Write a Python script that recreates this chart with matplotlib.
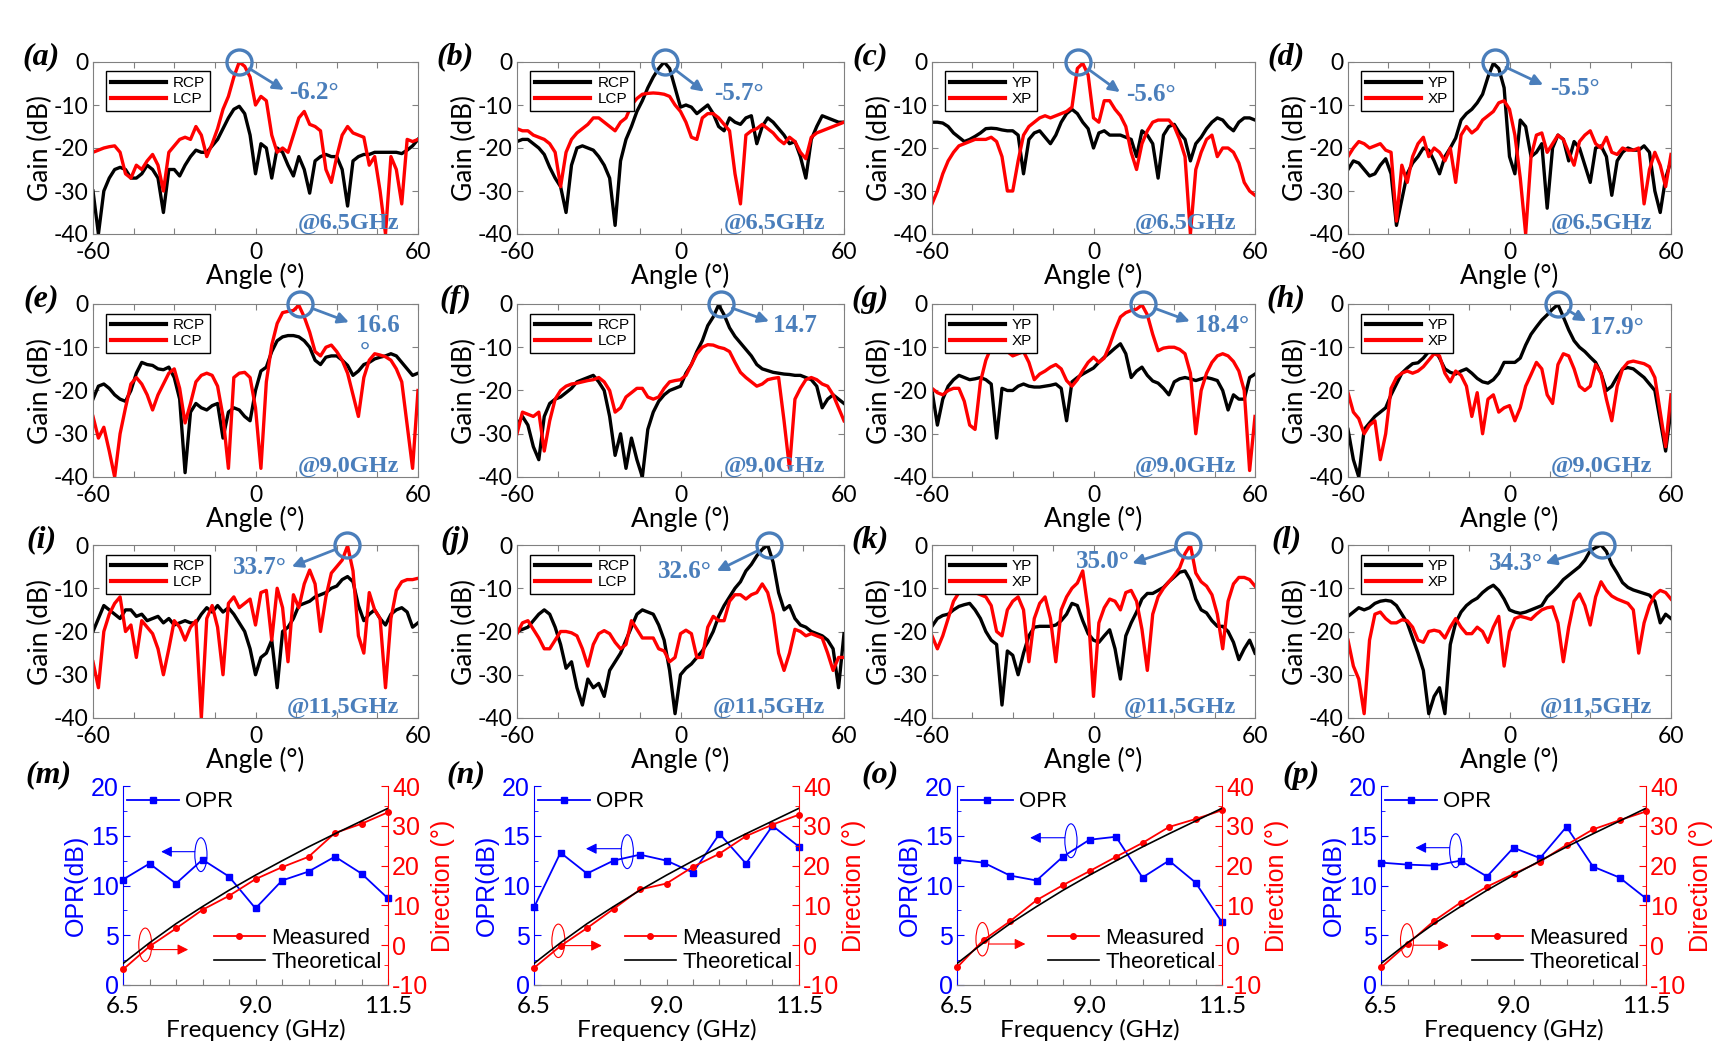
import numpy as np
import matplotlib
matplotlib.use('Agg')
import matplotlib.pyplot as plt
from matplotlib.patches import Ellipse

plt.rcParams['font.family'] = 'Lato'
plt.rcParams['axes.unicode_minus'] = False

# ---------------- data: normalized gain patterns (dB), angle grid -60..60 step 2 ----------------
ANGLE = np.arange(-60, 61, 2)

A_RCP = [-30, -40, -30, -27, -25, -24.5, -25, -27, -27, -26,
         -24, -25, -27, -35, -25, -25, -26.5, -24, -22, -20.5,
         -21, -21, -19.5, -18, -15.5, -13, -11, -10.3, -12, -17,
         -26, -19, -20, -27, -20, -21, -24, -26.5, -22, -25,
         -30.5, -23, -22, -21.5, -22, -22, -25, -33.5, -23, -22,
         -21.5, -21.5, -21, -21, -21, -21, -21, -21.3, -20.5, -19.5,
         -18]
A_LCP = [-21, -20.5, -20, -19.7, -19.5, -21, -26, -27, -24, -25,
         -23, -21.5, -24, -30, -21, -19.5, -18, -17.5, -18, -15,
         -17, -22, -19, -15.5, -11, -8, -3.5, 0, -1, -3.5,
         -10, -8, -9, -17, -21, -20, -21, -17, -13, -11.5,
         -14.5, -15, -16, -25, -28, -22, -17, -15, -16.5, -17,
         -17.5, -24, -22, -30, -40, -22, -25, -33, -18, -18.5,
         -18]
B_RCP = [-18.5, -18, -18, -19, -20, -21.5, -24.5, -27, -29, -35,
         -24, -20, -19.5, -20, -20.5, -22, -24, -27, -38, -23,
         -18, -15, -11.5, -9, -6, -3.5, -1.5, 0, -1.5, -6,
         -10.5, -10, -10.5, -12, -11, -10, -12, -15, -16, -13,
         -14, -14.5, -13, -12.5, -19, -15, -13, -14, -15.5, -17,
         -19, -18.5, -22, -27, -18, -15, -12.5, -13, -13.5, -14,
         -14]
B_LCP = [-15.5, -16, -16, -17, -17.5, -18, -19, -21, -29, -21,
         -18, -16.5, -15.5, -14.5, -13, -13, -14, -15, -16, -14,
         -13, -10, -8.5, -7.5, -7.3, -7.2, -7.3, -7.5, -8, -10,
         -11.5, -14, -17.5, -18, -13, -12, -12, -13, -14.5, -16,
         -26, -33, -17, -16, -15.5, -14.5, -15.5, -16.5, -18, -19,
         -17.5, -18.5, -21, -22.5, -17.5, -16.5, -16, -15.5, -15, -14.5,
         -14]
C_YP = [-14, -14, -14.2, -15, -16.5, -17.5, -18.5, -18, -17.3, -16.5,
        -15.5, -15.4, -15.5, -15.8, -16, -16, -17, -26, -18, -16.5,
        -16, -17.5, -19, -17, -14, -12, -11, -12, -14, -15.5,
        -20, -16.5, -16, -17, -17, -17, -17.5, -18, -22, -16,
        -17, -19, -27, -17, -15, -14.5, -16.5, -18, -23, -19,
        -17.5, -15.5, -14, -13, -13.5, -15, -16, -14, -13, -13,
        -13.5]
C_XP = [-33, -30, -26, -23, -21, -19.5, -19, -18.5, -18, -18,
        -18, -17.5, -18.5, -22, -30, -30, -23, -17, -15, -14,
        -13, -12.5, -13, -12.5, -12, -11.5, -10.5, -1.5, -0.3, -3,
        -13, -14, -9, -9, -11, -12.5, -15, -21, -25, -19,
        -16, -14, -13.5, -13.5, -13.5, -15, -18, -22, -40, -25,
        -21, -18, -17, -22, -20, -20, -21, -23.5, -28, -30,
        -31]
D_YP = [-25, -23, -23.5, -25, -26.5, -26, -24, -22.5, -26, -38,
        -32, -26, -23.5, -22, -20, -20.5, -23, -26, -22, -20,
        -17.7, -13.5, -12, -11, -9.5, -7.5, -3.5, -0.3, -1.5, -6,
        -22, -26, -13.5, -15, -22, -21, -19, -34, -20, -17,
        -18, -23, -18.5, -20, -24, -28, -20, -19.5, -22, -31,
        -23, -21, -20, -20.5, -20.5, -19.5, -21, -30, -35, -27,
        -23]
D_XP = [-22, -20, -18.5, -19, -20, -19.5, -19, -20.5, -21, -37,
        -24, -28, -22, -19, -17.5, -22, -20, -21, -23, -20,
        -28, -17, -15, -16.5, -15.5, -13.5, -12.5, -11.5, -9.5, -9,
        -11, -17, -27, -40, -22, -17, -16.5, -21, -19, -17,
        -18, -21, -24, -18.5, -17, -16, -19, -20, -17.5, -21,
        -21.5, -20, -20.5, -20.5, -20, -33, -25, -21, -24, -29,
        -21.5]
E_RCP = [-22, -19, -18.5, -19.5, -21, -22, -22.5, -20, -16, -13.5,
         -14, -14.2, -15, -15.2, -14.6, -17, -22, -39, -25, -23,
         -24, -24.5, -23.5, -23, -31, -25, -24, -24.5, -26, -27,
         -20, -15.5, -14.6, -11, -8.5, -7.6, -7.3, -7.3, -7.6, -8.5,
         -10, -13, -14, -12.3, -12, -12, -13, -14.2, -16.5, -15.5,
         -14, -13.5, -12.7, -12.3, -12, -11.5, -12, -13.5, -15, -16.5,
         -16]
E_LCP = [-26, -31, -28.5, -34, -40, -30, -24, -18.5, -17, -18.5,
         -21, -24.5, -21, -18.5, -16, -15, -19.5, -27.5, -23, -18,
         -16.5, -16, -16.5, -19, -26, -38, -17, -16, -15.8, -17,
         -24, -38, -18, -9.5, -4.5, -2, -1.7, -1.5, -0.3, -3,
         -6.5, -11, -12, -10, -9.5, -11, -13, -16, -21, -26,
         -17, -13, -11.5, -11.8, -12.2, -13, -15, -18, -28, -38,
         -20]
F_RCP = [-28, -26, -28, -33, -36, -26, -23, -22, -21.5, -20.5,
         -19.5, -18, -17.5, -17, -16.5, -18, -20, -26, -35, -30,
         -38, -31, -36, -40, -29, -25, -22.5, -21, -20, -19.5,
         -19, -16, -14, -11, -8.5, -5, -3, -0.2, -2.5, -5.5,
         -7.5, -9, -10.5, -12, -14, -15, -15.4, -15.8, -16, -16.2,
         -16.3, -16.5, -16.5, -17, -17.5, -19, -24, -22, -21, -22,
         -23]
F_LCP = [-30, -25, -25.5, -26, -25, -34, -27, -22, -20, -19,
         -18.5, -18.3, -18, -17.7, -17.5, -17, -18, -20, -25, -24,
         -21.5, -20.5, -19.5, -19.5, -21.5, -22, -21.5, -19.5, -18, -17.7,
         -17.5, -16.5, -14, -11.5, -10, -9.4, -9.5, -10, -10.3, -11,
         -13.5, -15.8, -17, -18, -19, -18.5, -17.5, -17.2, -17, -27,
         -38, -22, -19.5, -17.5, -17, -17.5, -18.5, -19, -21, -24,
         -27]
G_YP = [-20, -28, -22, -19, -17.5, -16.5, -17, -17.5, -17.3, -17,
        -17.5, -18.5, -31, -19.5, -20, -20, -19, -18.5, -19, -19.2,
        -19.2, -19, -18.8, -18.5, -19.5, -27, -18, -17, -16.2, -15.5,
        -14.8, -13.5, -12.3, -11.3, -10.2, -9.2, -11.5, -17, -15.5, -14.6,
        -16.5, -17.8, -18.3, -19.5, -21, -18, -17.3, -17, -17.3, -17.7,
        -17.3, -17, -17.3, -17.7, -20, -24.5, -21, -22, -22, -17,
        -16.2]
G_XP = [-19.5, -20.5, -21, -20, -19.5, -19.5, -22.5, -28, -29, -18,
        -13, -10, -9, -9.5, -11, -12, -11.5, -11, -13.5, -17.5,
        -16.2, -15.5, -14.6, -14, -15, -17.7, -19, -17.5, -15.4, -13.5,
        -12.3, -13.5, -12.5, -9.5, -6, -3, -2, -1.5, -1.2, -0.2,
        -2.5, -7, -10.8, -10.2, -10, -10, -10.5, -11.5, -16, -30,
        -20, -16, -13.5, -12, -11.5, -12, -13.3, -15.5, -20, -38.5,
        -26]
H_YP = [-29, -36, -40, -29, -27.5, -26, -25, -24, -21, -18.5,
        -16, -14.8, -13.8, -13.6, -12.5, -11, -10.3, -12.5, -15, -15.8,
        -16.2, -15.5, -15, -16, -17.2, -18, -18.3, -17.5, -16, -13.5,
        -13.5, -13.5, -12.5, -9.5, -7, -5.3, -3.7, -2.5, -1.2, -0.1,
        -3, -6, -8.5, -10, -11, -12.3, -13.5, -16, -20, -19,
        -16.8, -15, -14.7, -15, -16, -17, -18.5, -20, -27, -34,
        -24.6]
H_XP = [-20.5, -25, -26.5, -30, -28, -27, -36, -30, -19.5, -17,
        -16, -15.5, -16, -15.5, -14.5, -13, -11.5, -12, -16, -18,
        -15.5, -16.5, -19, -26, -20.5, -30, -22, -21, -25, -24,
        -23.5, -27, -24, -19, -16.3, -13.5, -15, -21, -23, -14,
        -11.5, -12, -15, -19, -20, -19, -14, -16, -22, -27,
        -19, -15, -13.5, -13.2, -13.5, -13.8, -14.5, -17, -25, -33,
        -21]
I_RCP = [-20, -17, -14, -15, -16, -17, -15, -15, -16.5, -16,
         -17.5, -17, -16.5, -18, -17, -18.5, -18, -17.5, -18, -18,
         -16, -14.5, -15.5, -14, -15.5, -14.5, -16, -18, -20, -24,
         -30, -26, -25, -22, -33, -20, -19, -17, -14, -13.5,
         -13, -12, -11.5, -11, -10, -9.5, -8, -7.3, -8.5, -14,
         -17.5, -16, -15, -17, -18.5, -16, -15, -14.5, -15.5, -19,
         -18]
I_LCP = [-27, -33, -20, -16, -13.5, -12, -20, -18.5, -26, -17.5,
         -19, -20.5, -24, -30, -24, -17.5, -19, -22, -19, -17.5,
         -40, -17, -14, -19, -30, -13.5, -12, -14.5, -13.5, -12.5,
         -18.5, -11, -10.5, -22, -10, -14.5, -27, -11.5, -14.5, -9,
         -5.8, -9, -20, -12, -6.5, -5, -3.5, -0.2, -6, -21,
         -25, -11, -15, -17, -33, -17, -10.5, -8.5, -8, -8,
         -7.7]
J_RCP = [-20, -19.5, -19, -17.5, -16, -15, -16, -19, -23, -28.5,
         -27, -33, -37, -31, -33, -32, -35, -29, -27, -25,
         -22, -19, -16, -15, -15.5, -16, -18.5, -22, -29, -39,
         -30, -28.5, -27.5, -26, -24.5, -22.5, -20, -16.5, -14, -12,
         -10, -8.5, -6, -4.5, -2.5, -1, 0, -4, -11, -15,
         -14, -17, -18.5, -19, -20, -20.5, -21, -22, -24, -33,
         -20.5]
J_LCP = [-20.5, -18, -17.5, -19.5, -21.5, -24, -24, -22, -20, -20,
         -20.3, -21, -24, -28, -23, -20.5, -19.8, -20.5, -22.5, -24,
         -23, -17.5, -19.5, -21.5, -21.5, -21.5, -24, -24.5, -27, -26,
         -20.5, -19.7, -20.5, -26, -26, -19, -16.5, -17.5, -17.5, -13,
         -11.5, -11.5, -12.5, -11.5, -11, -9, -11, -16, -25, -29,
         -25, -19.5, -20, -21, -20.5, -21, -21.5, -25, -29, -26,
         -26]
K_YP = [-18.8, -17, -16.3, -16, -15, -14.2, -13.8, -13.5, -15, -17,
        -20, -22, -23, -37, -24.5, -25.5, -30, -25, -21, -19,
        -18.8, -18.8, -18.8, -18.5, -17.5, -16, -13.5, -14, -17.5, -20.5,
        -22, -22.5, -21, -19.6, -24, -31, -21, -18, -15.5, -12.5,
        -11.2, -11.2, -10.5, -9.8, -8.5, -7.4, -6.3, -6, -8.2, -12.5,
        -15, -15.7, -17.5, -18.8, -18.8, -20, -22.5, -26.5, -24, -22,
        -25]
K_XP = [-21, -24, -21, -17, -13, -11, -10, -10.5, -11, -11.5,
        -12, -14, -20, -21, -15, -13, -12, -15, -27, -17,
        -13.5, -12, -17, -27, -15, -12, -10, -8.8, -6, -15,
        -35, -18, -14.5, -12.5, -13, -15, -11, -10.5, -13, -19.5,
        -29, -16, -12, -10, -8.5, -7, -5.3, -2, 0, -6.5,
        -8.5, -9.5, -11.5, -16, -24, -13, -9, -7.5, -7.5, -8,
        -9.5]
L_YP = [-16.5, -15.5, -14.5, -15, -14.5, -13.5, -13, -12.8, -13, -14,
        -16, -18, -21.5, -25, -29, -39, -35, -33, -39, -23,
        -18, -15.5, -14, -13, -12.3, -11, -10, -9.3, -10.5, -12.5,
        -15, -15.5, -15.8, -15.5, -15, -14.5, -14, -12, -10.8, -9.5,
        -8, -7, -6, -5, -3.5, -1.3, -0.6, 0, -1.5, -4.5,
        -6.5, -8.7, -9.8, -10.4, -10.8, -11.2, -11.6, -13, -18, -16,
        -17]
L_XP = [-22, -28, -31, -39, -22, -16, -15.5, -17, -18, -18,
        -17.3, -17.5, -19, -22, -22.5, -20, -19.7, -20, -21.5, -19,
        -17, -19, -20.5, -20.5, -19, -20, -22.5, -19, -16.5, -28,
        -20, -17, -16.5, -16.8, -17.2, -16, -15, -14.5, -14.3, -18,
        -27, -19, -13, -11.3, -14, -18.5, -12, -8.5, -10.5, -11.8,
        -12.5, -13, -13.5, -15, -25, -18, -14, -11.5, -10.5, -11,
        -12.5]

BLACK = [A_RCP, B_RCP, C_YP, D_YP, E_RCP, F_RCP, G_YP, H_YP, I_RCP, J_RCP, K_YP, L_YP]
RED = [A_LCP, B_LCP, C_XP, D_XP, E_LCP, F_LCP, G_XP, H_XP, I_LCP, J_LCP, K_XP, L_XP]
NAMES = [('RCP', 'LCP'), ('RCP', 'LCP'), ('YP', 'XP'), ('YP', 'XP')] * 3
PEAK = [-6.2, -5.7, -5.6, -5.5, 16.6, 14.7, 18.4, 17.9, 33.7, 32.6, 35.0, 34.3]
PEAK_TEXT = ['-6.2°', '-5.7°', '-5.6°', '-5.5°', '16.6', '14.7', '18.4°', '17.9°',
             '33.7°', '32.6°', '35.0°', '34.3°']
FREQ_TEXT = ['@6.5GHz'] * 4 + ['@9.0GHz'] * 4 + ['@11,5GHz', '@11.5GHz', '@11.5GHz', '@11,5GHz']
LETTERS = 'abcdefghijkl'

# bottom row: OPR and beam direction vs frequency
FREQ = [6.5, 7.0, 7.5, 8.0, 8.5, 9.0, 9.5, 10.0, 10.5, 11.0, 11.5]
THEORY = [-4.6, 0.6, 5.4, 9.7, 13.8, 17.6, 21.2, 24.7, 28.0, 31.2, 34.4]
OPR_M = [10.6, 12.2, 10.2, 12.6, 10.9, 7.7, 10.5, 11.4, 12.9, 11.2, 8.7]
DIR_M = [-6.1, -0.3, 4.2, 8.9, 12.4, 16.6, 19.6, 22.2, 28.2, 30.5, 33.4]
OPR_N = [7.8, 13.3, 11.2, 12.5, 13.1, 12.5, 11.3, 15.2, 12.2, 16.0, 13.9]
DIR_N = [-5.7, -0.2, 4.3, 9.1, 14.0, 15.5, 19.7, 23.0, 27.4, 30.3, 32.8]
OPR_O = [12.6, 12.3, 11.0, 10.5, 12.9, 14.6, 14.9, 10.8, 12.5, 10.3, 6.3]
DIR_O = [-5.6, 1.3, 6.0, 11.3, 15.1, 18.6, 22.2, 25.7, 29.7, 31.7, 33.9]
OPR_P = [12.3, 12.1, 12.0, 12.5, 10.9, 13.8, 12.75, 15.9, 11.9, 10.8, 8.7]
DIR_P = [-5.6, 0.3, 6.1, 10.7, 14.7, 17.9, 21.0, 25.2, 29.1, 31.4, 33.6]

OPR = [OPR_M, OPR_N, OPR_O, OPR_P]
DIRECTION = [DIR_M, DIR_N, DIR_O, DIR_P]

# ---------------- layout (pixels of the 1725x1061 canvas) ----------------
W, H = 1725, 1061
COLS = [(93, 418), (517, 844), (932, 1255), (1348, 1671)]
ROWS = [(62, 234), (304, 477), (545, 718)]
COLS4 = [(123, 388), (534, 799), (957, 1222), (1381, 1646)]
ROW4 = (786, 985)

# arrow tip and text anchor for the peak annotation of each pattern panel
TIP = [(10.5, -6.5), (8.6, -6.9), (9.8, -7), (12.5, -5.3),
       (34.5, -4.2), (32.5, -4), (35.8, -4), (28.5, -4),
       (13.4, -5), (13.3, -6), (14.4, -4.2), (13.3, -4.2)]
TXT = [(12.5, -7, 'left'), (12.5, -7.3, 'left'), (12, -7.5, 'left'), (15, -6.2, 'left'),
       (37, -5, 'left'), (34, -5, 'left'), (37.7, -5, 'left'), (30, -5.4, 'left'),
       (11.6, -5.3, 'right'), (11.4, -6.2, 'right'), (13.5, -3.8, 'right'), (12.3, -4.2, 'right')]

ANN = '#4a7ebb'
GRAY = '#808080'


def rect(x0, x1, y0, y1):
    return [x0 / W, 1 - y1 / H, (x1 - x0) / W, (y1 - y0) / H]


fig = plt.figure(figsize=(W / 100, H / 100), dpi=100)

for i in range(12):
    r, c = divmod(i, 4)
    x0, x1 = COLS[c]
    y0, y1 = ROWS[r]
    ax = fig.add_axes(rect(x0, x1, y0, y1))
    ax.plot(ANGLE, BLACK[i], color='black', lw=2.4, label=NAMES[i][0])
    ax.plot(ANGLE, RED[i], color='red', lw=2.4, label=NAMES[i][1])
    ax.set_xlim(-60, 60)
    ax.set_ylim(-40, 0)
    ax.set_xticks(np.arange(-60, 61, 15))
    ax.set_xticklabels(['-60', '', '', '', '0', '', '', '', '60'])
    ax.set_yticks([-40, -30, -20, -10, 0])
    ax.tick_params(direction='in', top=True, right=True, length=4, color=GRAY,
                   labelsize=16.5, pad=3)
    ax.tick_params(axis='x', pad=6)
    for s in ax.spines.values():
        s.set_color(GRAY)
    ax.set_xlabel('Angle (°)', fontsize=19, labelpad=0)
    ax.set_ylabel('Gain (dB)', fontsize=19, labelpad=1)

    leg = ax.legend(loc='upper left', bbox_to_anchor=(0.04, 0.945), borderaxespad=0,
                    prop={'family': 'Liberation Sans', 'size': 11}, handlelength=3.6,
                    handletextpad=0.5, labelspacing=0.15, borderpad=0.3,
                    fancybox=False, framealpha=1, edgecolor='black')
    leg.get_frame().set_linewidth(1.0)
    for ln in leg.get_lines():
        ln.set_linewidth(3)

    # peak marker + arrow + angle text
    ax.plot(PEAK[i], 0, 'o', ms=18, mfc='none', mec=ANN, mew=2.4, clip_on=False, zorder=6)
    ax.annotate('', xy=TIP[i], xytext=(PEAK[i], 0),
                arrowprops=dict(arrowstyle='-|>', color=ANN, lw=2, mutation_scale=16,
                                shrinkA=9, shrinkB=0), zorder=6)
    tx, ty, ha = TXT[i]
    ax.text(tx, ty, PEAK_TEXT[i], color=ANN, fontsize=18, fontweight='bold',
            family='Liberation Serif', ha=ha, va='center')
    if i == 4:
        ax.text(38.5, -11, '°', color=ANN, fontsize=18, fontweight='bold',
                family='Liberation Serif', ha='left', va='center')
    ax.text(53, -37.5, FREQ_TEXT[i], color=ANN, fontsize=17.5, fontweight='bold',
            family='Liberation Serif', ha='right', va='center')

    off = 52 if c == 0 else 62
    fig.text((x0 - off) / W, 1 - (y0 - 5) / H, '(' + LETTERS[i] + ')', fontsize=23,
             fontweight='bold', style='italic', family='Liberation Serif',
             ha='center', va='center')

# ---------------- bottom row (m)-(p) ----------------
BLUE_ELL = [(7.97, 13.1, 7.22), (8.26, 13.4, 7.48), (8.65, 14.5, 7.88), (7.91, 13.5, 7.15)]
RED_ELL = [(6.92, 0.1, 7.73), (6.96, 1.1, 7.78), (6.98, 1.5, 7.79), (6.99, 1.2, 7.78)]
LAB_X = [48, 466, 880, 1301]

for k in range(4):
    x0, x1 = COLS4[k]
    ax = fig.add_axes(rect(x0, x1, ROW4[0], ROW4[1]))
    ax2 = ax.twinx()

    ax.plot(FREQ, OPR[k], color='blue', lw=1.3, marker='s', ms=4, label='OPR', clip_on=False)
    ax2.plot(FREQ, DIRECTION[k], color='red', lw=1.3, marker='o', ms=4, label='Measured',
             clip_on=False)
    ax2.plot(FREQ, THEORY, color='black', lw=1.2, label='Theoretical')

    ax.set_xlim(6.5, 11.5)
    ax.set_ylim(0, 20)
    ax2.set_ylim(-10, 40)
    ax.set_xticks(FREQ)
    ax.set_xticklabels(['6.5', '', '', '', '', '9.0', '', '', '', '', '11.5'])
    ax.set_yticks([0, 5, 10, 15, 20])
    ax.set_yticks([2.5, 7.5, 12.5, 17.5], minor=True)
    ax2.set_yticks([-10, 0, 10, 20, 30, 40])
    ax2.set_yticks([-5, 5, 15, 25, 35], minor=True)

    for a in (ax, ax2):
        a.spines['top'].set_visible(False)
    ax.spines['right'].set_visible(False)
    ax2.spines['left'].set_visible(False)
    ax.spines['left'].set_color('blue')
    ax2.spines['right'].set_color('red')
    ax.spines['bottom'].set_color(GRAY)
    ax2.spines['bottom'].set_color(GRAY)

    ax.tick_params(axis='x', direction='in', length=4, color=GRAY, labelsize=17.5, pad=8)
    ax.tick_params(axis='y', which='both', direction='in', color='blue', labelcolor='blue',
                   labelsize=18, pad=3)
    ax.tick_params(axis='y', which='major', length=5)
    ax.tick_params(axis='y', which='minor', length=3)
    ax2.tick_params(axis='y', which='both', direction='in', color='red', labelcolor='red',
                    labelsize=18, pad=3)
    ax2.tick_params(axis='y', which='major', length=5)
    ax2.tick_params(axis='y', which='minor', length=3)
    for lab in ax.get_yticklabels() + ax2.get_yticklabels():
        lab.set_family('Liberation Sans')

    ax.set_xlabel('Frequency (GHz)', fontsize=17.5, labelpad=1)
    ax.set_ylabel('OPR(dB)', color='blue', fontsize=18, family='Liberation Sans', labelpad=2)
    ax2.set_ylabel('Direction (°)', color='red', fontsize=18, family='Liberation Sans',
                   labelpad=2)

    ax.legend(loc='center left', bbox_to_anchor=(0.0, 0.92), borderaxespad=0, frameon=False,
              prop={'family': 'Liberation Sans', 'size': 16}, handlelength=2.3,
              handletextpad=0.3, borderpad=0.2)
    ax2.legend(loc='center left', bbox_to_anchor=(0.325, 0.175), borderaxespad=0,
               frameon=False, prop={'family': 'Liberation Sans', 'size': 16},
               handlelength=2.3, handletextpad=0.3, labelspacing=0.15, borderpad=0.2)

    # ellipses with arrows pointing to the matching axis
    bx, by, bend = BLUE_ELL[k]
    ax.add_patch(Ellipse((bx, by), 0.23, 3.4, fill=False, edgecolor='blue', lw=0.8))
    ax.annotate('', xy=(bend, by + 0.3), xytext=(bx - 0.115, by + 0.3),
                arrowprops=dict(arrowstyle='-|>', color='blue', lw=0.8, mutation_scale=16,
                                shrinkA=0, shrinkB=0))
    rx, ry, rend = RED_ELL[k]
    ax2.add_patch(Ellipse((rx, ry), 0.245, 8.4, fill=False, edgecolor='red', lw=0.8))
    ax2.annotate('', xy=(rend, ry - 1.2), xytext=(rx + 0.12, ry - 1.2),
                 arrowprops=dict(arrowstyle='-|>', color='red', lw=0.8, mutation_scale=16,
                                 shrinkA=0, shrinkB=0))

    fig.text(LAB_X[k] / W, 1 - 775 / H, '(' + 'mnop'[k] + ')', fontsize=23,
             fontweight='bold', style='italic', family='Liberation Serif',
             ha='center', va='center')

fig.savefig('out.png', dpi=100)
